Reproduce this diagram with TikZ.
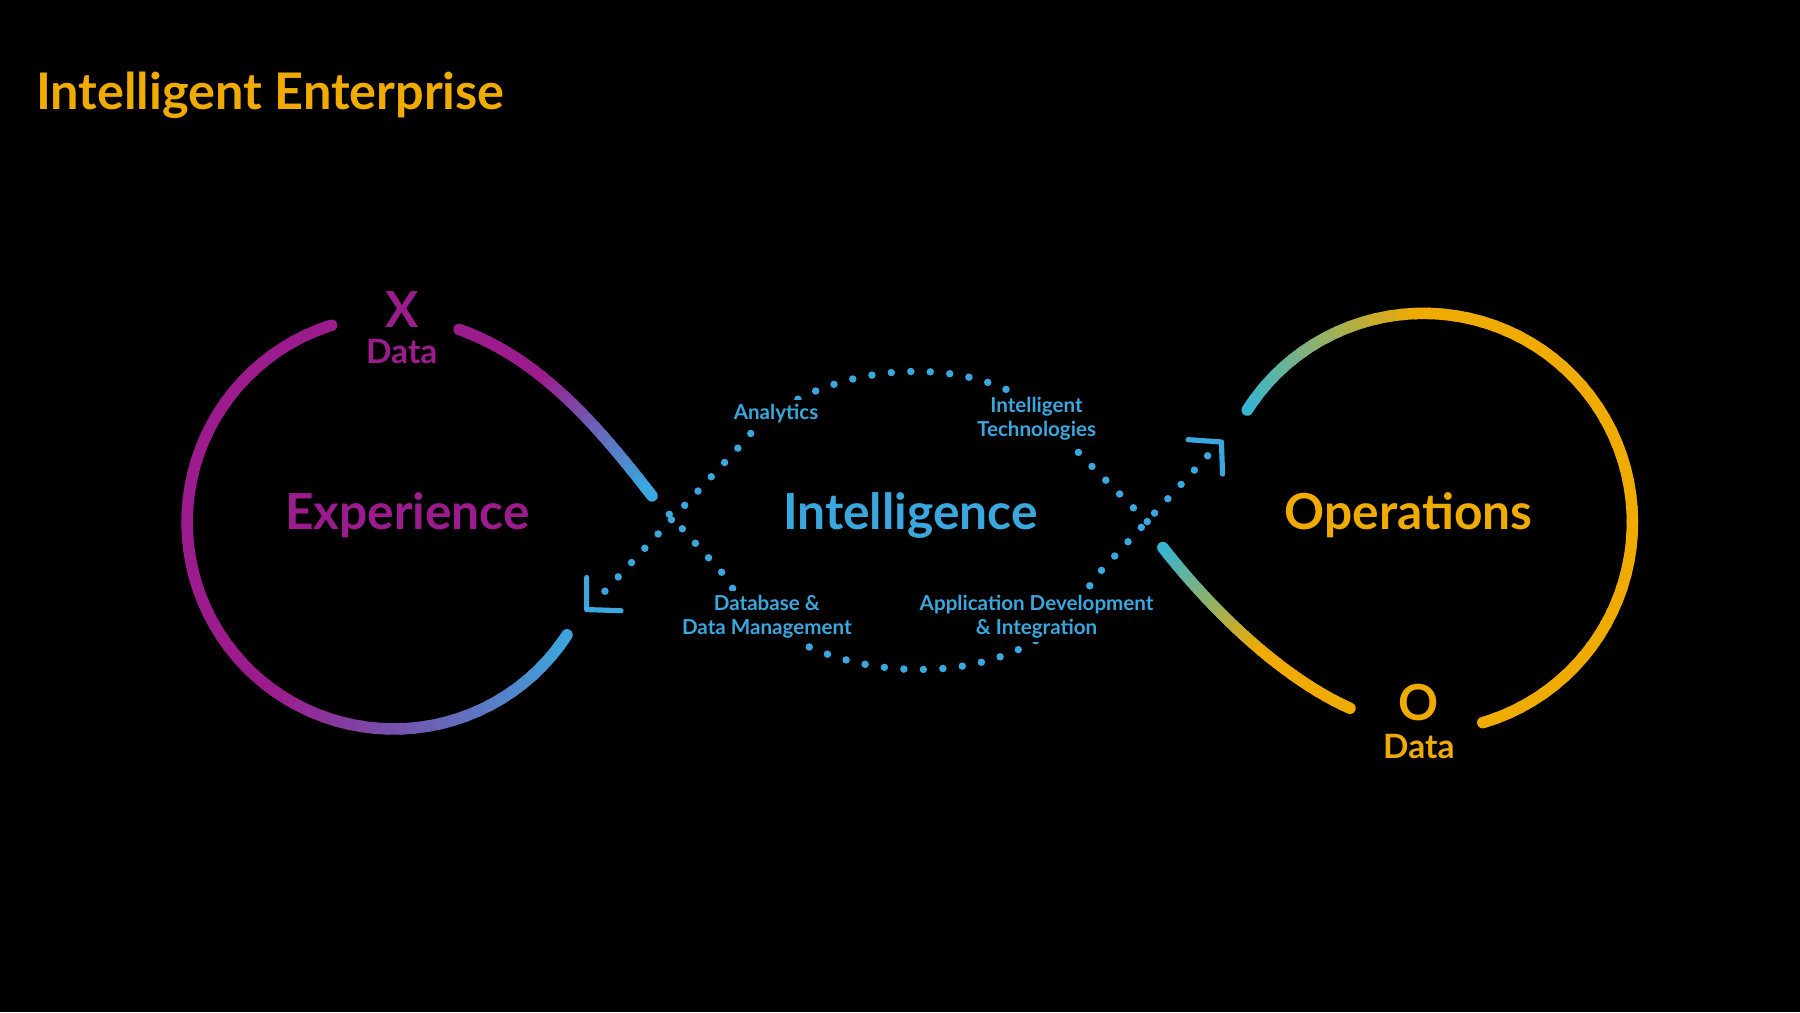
\documentclass[tikz,border=0pt]{standalone}
\usepackage{fontspec}
\setmainfont{Lato}
\begin{document}
\definecolor{purp}{HTML}{9C1C8E}
\definecolor{blu}{HTML}{3AA8DF}
\definecolor{tea}{HTML}{35B6D2}
\definecolor{orng}{HTML}{F0AB00}
\begin{tikzpicture}[x=0.01cm,y=0.01cm,
  ring/.style={line width=0.1cm,line cap=round},
  dots/.style={line width=0.065cm,line cap=round,dash pattern=on 0pt off 0.17cm,blu},
  lbl/.style={font=\bfseries\fontsize{5.1}{6}\selectfont,text=blu,fill=black,align=center,inner sep=1pt},
  big/.style={font=\bfseries\fontsize{12.3}{14}\selectfont}]
\fill[black] (0,0) rectangle (1568,-882);
\useasboundingbox (0,0) rectangle (1568,-882);
\node[font=\bfseries\fontsize{12.5}{14}\selectfont,text=orng,anchor=west] (title) at (19,-83) {Intelligent Enterprise};
\coordinate (lc) at (343,-455);
\foreach \i in {0,...,59}{
  \pgfmathsetmacro\aa{107.5+\i*219.1/60}
  \pgfmathsetmacro\ab{\aa+219.1/60+0.4}
  \pgfmathsetmacro\t{min(100,max(0,(\aa-235)/91*100))}
  \draw[ring,blu!\t!purp] (lc) ++(\aa:180) arc[start angle=\aa,end angle=\ab,radius=180];
}
\foreach \k in {0,...,24}{\path (400,-287) .. controls (470,-312) and (520,-370) .. (568,-432) coordinate[pos=\k/24] (u\k);}
\foreach \k in {0,...,23}{
  \pgfmathtruncatemacro\n{\k+1}
  \pgfmathsetmacro\t{min(100,max(0,(\k-9)/14*100))}
  \draw[ring,blu!\t!purp] (u\k) -- (u\n);
}
\coordinate (rc) at (1240,-455);
\foreach \i in {0,...,59}{
  \pgfmathsetmacro\aa{147.5-\i*220.6/60}
  \pgfmathsetmacro\ab{\aa-220.6/60-0.4}
  \pgfmathsetmacro\t{min(100,max(0,(147.5-\aa)/55*100))}
  \draw[ring,orng!\t!tea] (rc) ++(\aa:182) arc[start angle=\aa,end angle=\ab,radius=182];
}
\foreach \k in {0,...,24}{\path (1013,-477) .. controls (1060,-537) and (1120,-592) .. (1176,-617) coordinate[pos=\k/24] (w\k);}
\foreach \k in {0,...,23}{
  \pgfmathtruncatemacro\n{\k+1}
  \pgfmathsetmacro\t{min(100,max(0,\k/13*100))}
  \draw[ring,orng!\t!tea] (w\k) -- (w\n);
}
\draw[dots] (527,-515) -- (645,-388) .. controls (705,-310) and (880,-292) .. (940,-395) -- (1000,-455);
\draw[dots] (583,-448) -- (630,-500) .. controls (690,-605) and (900,-615) .. (952,-505) -- (1052,-397);
\draw[blu,line width=0.045cm,line cap=round,line join=round] (511,-503) -- (511,-531) -- (541,-532);
\draw[blu,line width=0.045cm,line cap=round,line join=round] (1035,-383) -- (1064,-385) -- (1065,-413);
\node[lbl] (an) at (676,-360) {Analytics};
\node[lbl] (it) at (903,-365) {Intelligent\\Technologies};
\node[lbl] (db) at (668,-537) {Database \&\\Data Management};
\node[lbl] (ad) at (903,-537) {Application Development\\\& Integration};
\node[big,text=purp] (ex) at (355,-449) {Experience};
\node[big,text=blu] (in) at (793,-449) {Intelligence};
\node[big,text=orng] (op) at (1227,-449) {Operations};
\node[big,text=purp] (x) at (350,-270) {X};
\node[font=\bfseries\fontsize{8.3}{9}\selectfont,text=purp] (xd) at (350,-306) {Data};
\node[big,text=orng] (o) at (1236,-612) {O};
\node[font=\bfseries\fontsize{8.3}{9}\selectfont,text=orng] (od) at (1236,-650) {Data};
\end{tikzpicture}
\end{document}
